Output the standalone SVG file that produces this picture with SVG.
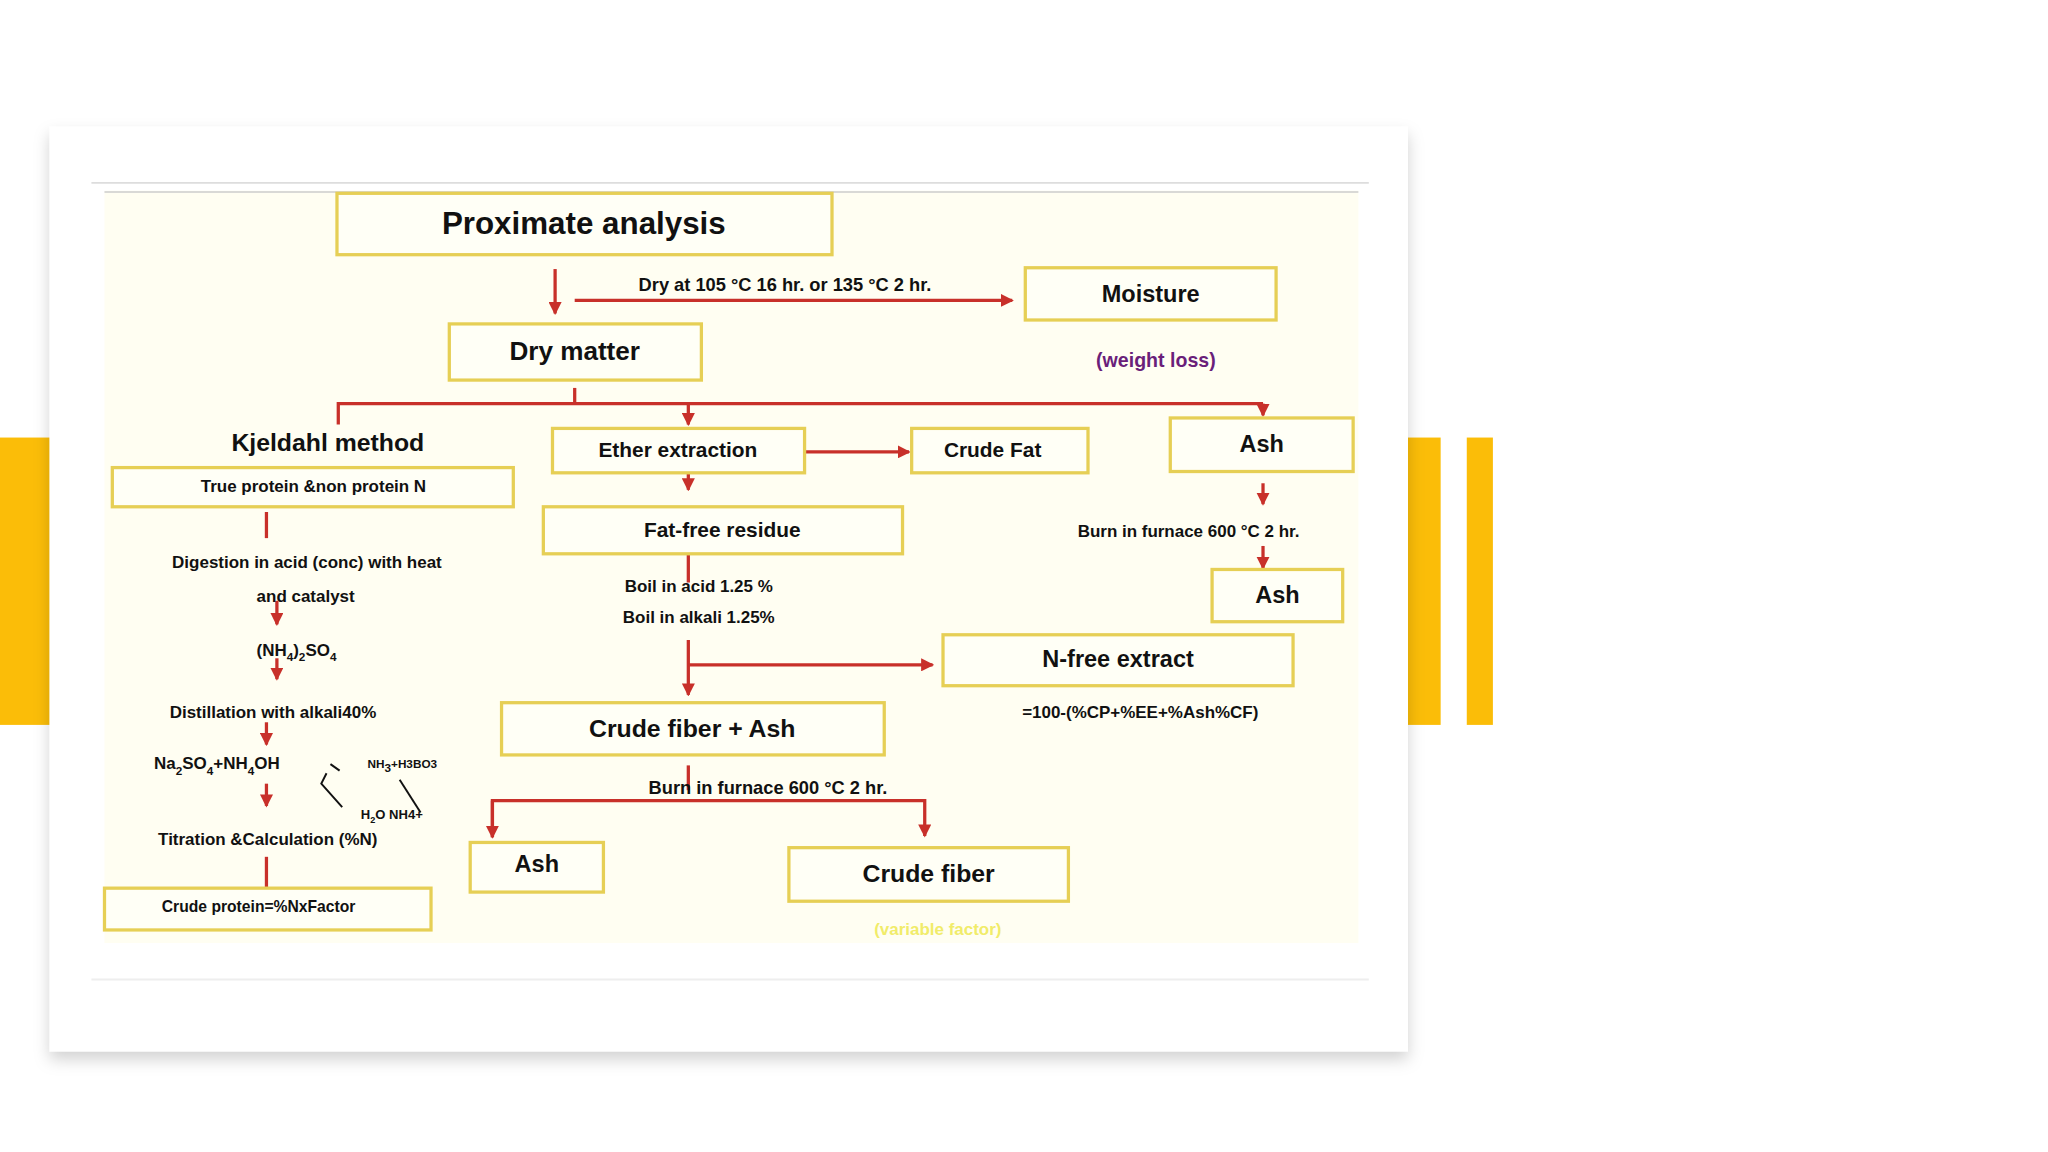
<svg xmlns="http://www.w3.org/2000/svg" width="2048" height="1152" viewBox="0 0 2048 1152">
<defs>
<marker id="ah" markerWidth="4" markerHeight="4" refX="3.5" refY="2" orient="auto" markerUnits="strokeWidth"><path d="M0,0 L4,2 L0,4 z" fill="#c8302a"/></marker>
<filter id="sh" x="-5%" y="-5%" width="110%" height="115%"><feDropShadow dx="0" dy="6" stdDeviation="6" flood-color="#000" flood-opacity="0.18"/></filter>
<style>
.b{fill:#fffff6;stroke:#e6cf55;stroke-width:2.5}
.t{font-family:"Liberation Sans",Arial,sans-serif;font-weight:bold;fill:#111;text-anchor:middle}
.c line,.c path{stroke:#c8302a;stroke-width:2.5;fill:none}
.a{marker-end:url(#ah)}
</style>
</defs>
<rect width="2048" height="1152" fill="#fff"/>
<g transform="scale(1.30612)">
<rect x="0" y="335" width="38" height="220" fill="#fbbd08"/>
<rect x="1078" y="335" width="25" height="220" fill="#fbbd08"/>
<rect x="1123" y="335" width="20" height="220" fill="#fbbd08"/>
<rect x="38" y="97" width="1040" height="708" fill="#fff" filter="url(#sh)"/>
<line x1="70" y1="140" x2="1048" y2="140" stroke="#ddd" stroke-width="1.5"/>
<line x1="70" y1="750" x2="1048" y2="750" stroke="#eee" stroke-width="1.5"/>
<rect x="80" y="146" width="960" height="576" fill="#fffef2"/>
<line x1="80" y1="147" x2="1040" y2="147" stroke="#ccc" stroke-width="1"/>
<g class="c">
<line x1="425" y1="206" x2="425" y2="240" class="a"/>
<line x1="440" y1="230" x2="775" y2="230" class="a"/>
<line x1="440" y1="297" x2="440" y2="309"/>
<path d="M259,325 V309 H967"/>
<line x1="527" y1="309" x2="527" y2="325" class="a"/>
<line x1="967" y1="309" x2="967" y2="318" class="a"/>
<line x1="617" y1="346" x2="696" y2="346" class="a"/>
<line x1="527" y1="362" x2="527" y2="375" class="a"/>
<line x1="967" y1="370" x2="967" y2="386" class="a"/>
<line x1="967" y1="418" x2="967" y2="435" class="a"/>
<line x1="527" y1="424" x2="527" y2="446"/>
<line x1="527" y1="490" x2="527" y2="532" class="a"/>
<line x1="527" y1="509" x2="714" y2="509" class="a"/>
<line x1="527" y1="586" x2="527" y2="605"/>
<path d="M377,641 V613 H708 V640" class="a"/>
<line x1="377" y1="613" x2="377" y2="641" class="a"/>
<line x1="204" y1="392" x2="204" y2="412"/>
<line x1="212" y1="460" x2="212" y2="478" class="a"/>
<line x1="212" y1="504" x2="212" y2="520" class="a"/>
<line x1="204" y1="553" x2="204" y2="570" class="a"/>
<line x1="204" y1="600" x2="204" y2="617" class="a"/>
<line x1="204" y1="656" x2="204" y2="681"/>
<path d="M260,590 L253,585" style="stroke:#111;stroke-width:1.5"/>
<path d="M250,592 L246,600 L262,618" style="stroke:#111;stroke-width:1.5"/>
<path d="M306,597 L322,622" style="stroke:#111;stroke-width:1.5"/>
</g>
<g id="proximate"><rect class="b" x="258" y="148" width="379" height="47"/><text class="t" x="447" y="179" font-size="24">Proximate analysis</text></g>
<g id="moisture"><rect class="b" x="785" y="205" width="192" height="40"/><text class="t" x="881" y="231" font-size="18">Moisture</text></g>
<text class="t" x="601" y="223" font-size="14">Dry at 105 °C  16 hr. or 135 °C 2 hr.</text>
<text class="t" x="885" y="281" font-size="15" style="fill:#6a1f7a">(weight loss)</text>
<g id="drymatter"><rect class="b" x="344" y="248" width="193" height="43"/><text class="t" x="440" y="276" font-size="20">Dry matter</text></g>
<text class="t" x="251" y="345" font-size="19">Kjeldahl method</text>
<g id="trueprotein"><rect class="b" x="86" y="358" width="307" height="30"/><text class="t" x="240" y="377" font-size="13">True protein &amp;non protein N</text></g>
<g id="ether"><rect class="b" x="423" y="328" width="193" height="34"/><text class="t" x="519" y="350" font-size="16">Ether extraction</text></g>
<g id="crudefat"><rect class="b" x="698" y="328" width="135" height="34"/><text class="t" x="760" y="350" font-size="16">Crude Fat</text></g>
<g id="ash1"><rect class="b" x="896" y="320" width="140" height="41"/><text class="t" x="966" y="346" font-size="18">Ash</text></g>
<g id="fatfree"><rect class="b" x="416" y="388" width="275" height="36"/><text class="t" x="553" y="411" font-size="16">Fat-free residue</text></g>
<text class="t" x="910" y="411" font-size="13">Burn in furnace 600 °C 2 hr.</text>
<g id="ash2"><rect class="b" x="928" y="436" width="100" height="40"/><text class="t" x="978" y="462" font-size="18">Ash</text></g>
<text class="t" x="535" y="453" font-size="13">Boil in acid 1.25 %</text>
<text class="t" x="535" y="477" font-size="13">Boil in alkali 1.25%</text>
<g id="nfree"><rect class="b" x="722" y="486" width="268" height="39"/><text class="t" x="856" y="511" font-size="18">N-free extract</text></g>
<text class="t" x="873" y="550" font-size="13">=100-(%CP+%EE+%Ash%CF)</text>
<g id="fiberash"><rect class="b" x="384" y="538" width="293" height="40"/><text class="t" x="530" y="564" font-size="19">Crude fiber + Ash</text></g>
<text class="t" x="588" y="608" font-size="14">Burn in furnace 600 °C 2 hr.</text>
<g id="ash3"><rect class="b" x="360" y="645" width="102" height="38"/><text class="t" x="411" y="668" font-size="18">Ash</text></g>
<g id="crudefiber"><rect class="b" x="604" y="649" width="214" height="41"/><text class="t" x="711" y="675" font-size="19">Crude fiber</text></g>
<text class="t" x="235" y="435" font-size="13">Digestion in acid (conc) with heat</text>
<text class="t" x="234" y="461" font-size="13">and catalyst</text>
<text class="t" x="227" y="502" font-size="13">(NH<tspan font-size="9" dy="4">4</tspan><tspan dy="-4">)</tspan><tspan font-size="9" dy="4">2</tspan><tspan dy="-4">SO</tspan><tspan font-size="9" dy="4">4</tspan></text>
<text class="t" x="209" y="550" font-size="13">Distillation with alkali40%</text>
<text class="t" x="166" y="589" font-size="13">Na<tspan font-size="9" dy="4">2</tspan><tspan dy="-4">SO</tspan><tspan font-size="9" dy="4">4</tspan><tspan dy="-4">+NH</tspan><tspan font-size="9" dy="4">4</tspan><tspan dy="-4">OH</tspan></text>
<text class="t" x="308" y="588" font-size="9">NH<tspan dy="3">3</tspan><tspan dy="-3">+H3BO3</tspan></text>
<text class="t" x="300" y="627" font-size="10">H<tspan font-size="7" dy="3">2</tspan><tspan dy="-3">O  NH4+</tspan></text>
<text class="t" x="205" y="647" font-size="13">Titration &amp;Calculation (%N)</text>
<g id="crudeprotein"><rect class="b" x="80" y="680" width="250" height="32"/><text class="t" x="198" y="698" font-size="12">Crude protein=%NxFactor</text></g>
<text class="t" x="718" y="716" font-size="13" style="fill:#f1ec6a">(variable factor)</text>
</g>
</svg>
